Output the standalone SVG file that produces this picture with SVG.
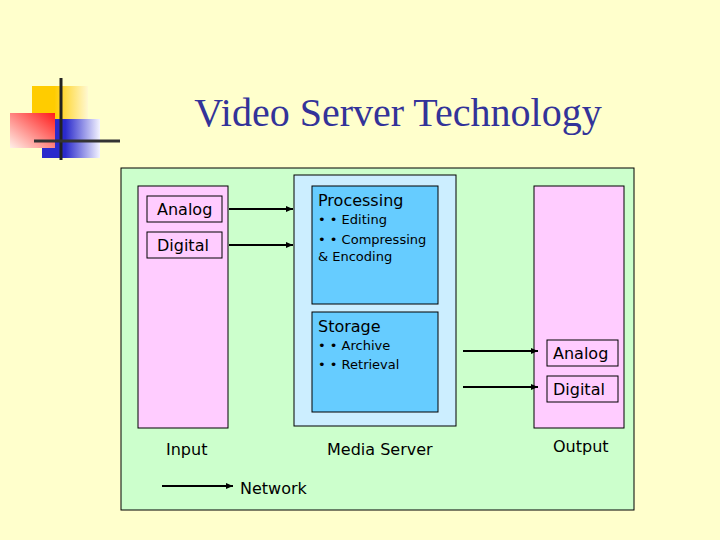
<svg xmlns="http://www.w3.org/2000/svg" width="720" height="540" viewBox="0 0 720 540">
<defs>
<linearGradient id="gy" x1="0" x2="1"><stop offset="0.4" stop-color="#ffcc00"/><stop offset="1" stop-color="#fff8d0"/></linearGradient>
<linearGradient id="gr" x1="1" y1="0" x2="0" y2="1"><stop offset="0" stop-color="#ff1a1a"/><stop offset="1" stop-color="#fff0e8"/></linearGradient>
<linearGradient id="gb" x1="0" x2="1"><stop offset="0.4" stop-color="#2a2acc"/><stop offset="1" stop-color="#f4f4ff"/></linearGradient>
<marker id="ah" markerWidth="8" markerHeight="8" refX="7" refY="4" orient="auto" markerUnits="userSpaceOnUse"><path d="M0,1 L7,4 L0,7 z" fill="#000"/></marker>
<style>
text{font-family:Tahoma,"DejaVu Sans",sans-serif;fill:#000}
.pk{fill:#ffccff;stroke:#000;stroke-width:1}
.bx{fill:#66ccff;stroke:#000;stroke-width:1}
.l{font-size:16px}.s{font-size:13px}
.c line{stroke:#000;stroke-width:2;marker-end:url(#ah)}
</style>
</defs>
<rect width="720" height="540" fill="#ffffcc"/>
<rect x="32" y="86" width="56" height="42" fill="url(#gy)"/>
<rect x="42" y="119" width="58" height="39" fill="url(#gb)"/>
<rect x="10" y="113" width="45" height="35" fill="url(#gr)"/>
<line x1="61" y1="78" x2="61" y2="160" stroke="#222" stroke-width="3"/>
<line x1="34" y1="141" x2="120" y2="141" stroke="#333" stroke-width="3"/>
<text x="398" y="126" text-anchor="middle" style="font-family:'Liberation Serif',serif;font-size:40px;fill:#333399">Video Server Technology</text>
<rect x="121" y="168" width="513" height="342" fill="#ccffcc" stroke="#000"/>
<g id="input"><rect class="pk" x="138" y="186" width="90" height="242"/><text class="l" x="166" y="455">Input</text></g>
<g id="in-analog"><rect class="pk" x="147" y="196" width="75" height="26"/><text class="l" x="157" y="215">Analog</text></g>
<g id="in-digital"><rect class="pk" x="147" y="232" width="75" height="26"/><text class="l" x="157" y="251">Digital</text></g>
<g id="media"><rect x="294" y="175" width="162" height="251" fill="#cceeff" stroke="#000"/><text class="l" x="327" y="455">Media Server</text></g>
<g id="processing"><rect class="bx" x="312" y="186" width="126" height="118"/><text class="l" x="318" y="206">Processing</text><text class="s" x="318" y="224">• • Editing</text><text class="s" x="318" y="244">• • Compressing</text><text class="s" x="318" y="261">&amp; Encoding</text></g>
<g id="storage"><rect class="bx" x="312" y="312" width="126" height="100"/><text class="l" x="318" y="332">Storage</text><text class="s" x="318" y="350">• • Archive</text><text class="s" x="318" y="369">• • Retrieval</text></g>
<g id="output"><rect class="pk" x="534" y="186" width="90" height="242"/><text class="l" x="553" y="452">Output</text></g>
<g id="out-analog"><rect class="pk" x="547" y="340" width="71" height="26"/><text class="l" x="553" y="359">Analog</text></g>
<g id="out-digital"><rect class="pk" x="547" y="376" width="71" height="26"/><text class="l" x="553" y="395">Digital</text></g>
<g id="legend"><text class="l" x="240" y="494">Network</text></g>
<g class="c" id="connectors">
<line x1="229" y1="209" x2="293" y2="209"/>
<line x1="229" y1="245" x2="293" y2="245"/>
<line x1="463" y1="351" x2="538" y2="351"/>
<line x1="463" y1="387" x2="538" y2="387"/>
<line x1="162" y1="486" x2="233" y2="486"/>
</g>
</svg>
